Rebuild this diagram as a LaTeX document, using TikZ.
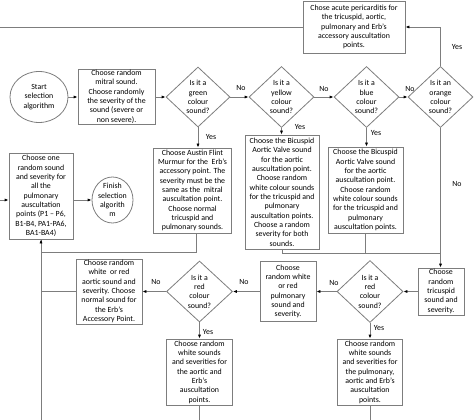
\documentclass[tikz,border=0pt]{standalone}
\usepackage{fontspec}
\setmainfont{Carlito}
\usetikzlibrary{shapes.geometric,arrows.meta}
\definecolor{lg}{RGB}{125,125,125}
\begin{document}
\begin{tikzpicture}[x=0.75pt,y=-0.75pt,
  font=\fontsize{5.9}{7.0}\selectfont,
  box/.style={draw=lg,line width=0.6pt,rectangle,inner sep=0pt,align=center},
  ell/.style={draw=lg,line width=0.6pt,ellipse,inner sep=0pt},
  dia/.style={draw=lg,line width=0.6pt,diamond,inner sep=0pt},
  txt/.style={label={[lbl,align=center]center:{#1}}},
  ln/.style={draw=lg,line width=0.6pt},
  arr/.style={ln,-{Latex[length=3pt,width=2.4pt,color=black]}},
  lbl/.style={inner sep=0pt}]
\useasboundingbox (0,0) rectangle (474,420);
% free ends
\coordinate (ltop) at (0,27);
\coordinate (lin) at (0,200);
\coordinate (lbot) at (41,420);
\coordinate (bot) at (0,420);
\coordinate (mg) at (0,253);
% row 1
\node[ell,minimum width=43.5pt,minimum height=38.25pt,txt={Start\\selection\\algorithm}] (start) at (39,97) {};
\node[box,minimum width=57.75pt,minimum height=41.25pt] (mitral) at (116.5,96.5) {Choose random\\mitral sound.\\Choose randomly\\the severity of the\\sound (severe or\\non severe).};
\node[dia,minimum width=48pt,minimum height=45pt,txt={Is it a\\green\\colour\\sound?}] (green) at (198,97) {};
\node[dia,minimum width=48.75pt,minimum height=45.75pt,txt={Is it a\\yellow\\colour\\sound?}] (yellow) at (281.5,97) {};
\node[dia,minimum width=48.75pt,minimum height=45.75pt,txt={Is it a\\blue\\colour\\sound?}] (blue) at (366.5,97) {};
\node[dia,minimum width=48.75pt,minimum height=45.75pt,txt={Is it an\\orange\\colour\\sound?}] (orange) at (440.5,97) {};
\node[box,minimum width=76.5pt,minimum height=39pt] (acute) at (354,27) {Chose acute pericarditis for\\the tricuspid, aortic,\\pulmonary and Erb’s\\accessory auscultation\\points.};
% row 2
\node[box,minimum width=48pt,minimum height=64.5pt] (onerand) at (41,196) {Choose one\\random sound\\and severity for\\all the\\pulmonary\\auscultation\\points (P1 – P6,\\B1-B4, PA1-PA6,\\BA1-BA4)};
\node[ell,minimum width=30.75pt,minimum height=34.5pt,txt={Finish\\selection\\algorith\\m}] (finish) at (112.5,200) {};
\node[box,minimum width=58.5pt,minimum height=63.75pt] (austin) at (192.5,190.5) {Choose Austin Flint\\Murmur for the\ \ Erb’s\\accessory point. The\\severity must be the\\same as the\ \ mitral\\auscultation point.\\Choose normal\\tricuspid and\\pulmonary sounds.};
\node[box,minimum width=55.5pt,minimum height=85.5pt] (bic1) at (282,192) {Choose the Bicuspid\\Aortic Valve sound\\for the aortic\\auscultation point.\\Choose random\\white colour sounds\\for the tricuspid and\\pulmonary\\auscultation points.\\Choose a random\\severity for both\\sounds.};
\node[box,minimum width=56.25pt,minimum height=64.5pt] (bic2) at (365.5,190) {Choose the Bicuspid\\Aortic Valve sound\\for the aortic\\auscultation point.\\Choose random\\white colour sounds\\for the tricuspid and\\pulmonary\\auscultation points.};
% row 3
\node[box,minimum width=49.5pt,minimum height=48.75pt] (aortic) at (109,291.5) {Choose random\\white\ \ or red\\aortic sound and\\severity. Choose\\normal sound for\\the Erb’s\\Accessory Point.};
\node[dia,minimum width=49.5pt,minimum height=45.75pt,txt={Is it a\\red\\colour\\sound?}] (red1) at (199.5,291.5) {};
\node[box,minimum width=42pt,minimum height=45pt] (pulm) at (288,291.5) {Choose\\random white\\or red\\pulmonary\\sound and\\severity.};
\node[dia,minimum width=49.5pt,minimum height=46.5pt,txt={Is it a\\red\\colour\\sound?}] (red2) at (370,291.5) {};
\node[box,minimum width=34.5pt,minimum height=35.25pt] (tric) at (441,291.5) {Choose\\random\\tricuspid\\sound and\\severity.};
% row 4
\node[box,minimum width=49.5pt,minimum height=49.5pt] (bot1) at (199.5,372) {Choose random\\white sounds\\and severities for\\the aortic and\\Erb’s\\auscultation\\points.};
\node[box,minimum width=48.75pt,minimum height=49.5pt] (bot2) at (370,372) {Choose random\\white sounds\\and severities for\\the pulmonary,\\aortic and Erb’s\\auscultation\\points.};
% connectors
\draw[arr] (start) -- (mitral.west |- start);
\draw[arr] (mitral.east |- green) -- (green.west);
\draw[arr] (green) -- (yellow);
\draw[arr] (yellow) -- (blue);
\draw[arr] (blue) -- (orange);
\draw[arr] (orange.north) |- (acute.east);
\draw[ln] (acute.west) -- (acute.west -| ltop);
\draw[arr] (green.south) -- (green.south |- austin.north);
\draw[arr] (yellow.south) -- (yellow.south |- bic1.north);
\draw[arr] (blue.south) -- (blue.south |- bic2.north);
\draw[arr] (orange.south) -- (orange.south |- tric.north);
\draw[ln] (bic1.south) |- (orange.south |- mg);
\draw[ln] (bic2.south) -- (bic2.south |- mg);
\draw[arr] (lin) -- (lin -| onerand.west);
\draw[arr] (onerand.east |- finish) -- (finish.west);
\draw[ln] ([xshift=3pt]austin.south) -- ++(0,19) -| (onerand.south);
\draw[arr] (lbot) -- (onerand.south);
\draw[arr] (tric) -- (red2);
\draw[arr] (red2) -- (pulm);
\draw[arr] (pulm) -- (red1);
\draw[arr] (red1) -- (aortic);
\draw[ln] (aortic.west) -- (aortic.west -| onerand.south);
\draw[arr] (red1.south) -- (red1.south |- bot1.north);
\draw[arr] (red2.south) -- (red2.south |- bot2.north);
\draw[ln] (bot1.south) -- (bot1.south |- bot);
\draw[ln] (bot2.south) -- (bot2.south |- bot);
% labels
\node[lbl] (l1) at (241,88) {No};
\node[lbl] (l2) at (324,89) {No};
\node[lbl] (l3) at (410,89) {No};
\node[lbl] (l4) at (457,47) {Yes};
\node[lbl] (l5) at (211,137) {Yes};
\node[lbl] (l6) at (300,127) {Yes};
\node[lbl] (l7) at (376,133) {Yes};
\node[lbl] (l8) at (457,184) {No};
\node[lbl] (l9) at (156,282) {No};
\node[lbl] (l10) at (244,282) {No};
\node[lbl] (l11) at (334,283) {No};
\node[lbl] (l12) at (208,332) {Yes};
\node[lbl] (l13) at (379,328) {Yes};
\end{tikzpicture}
\end{document}
